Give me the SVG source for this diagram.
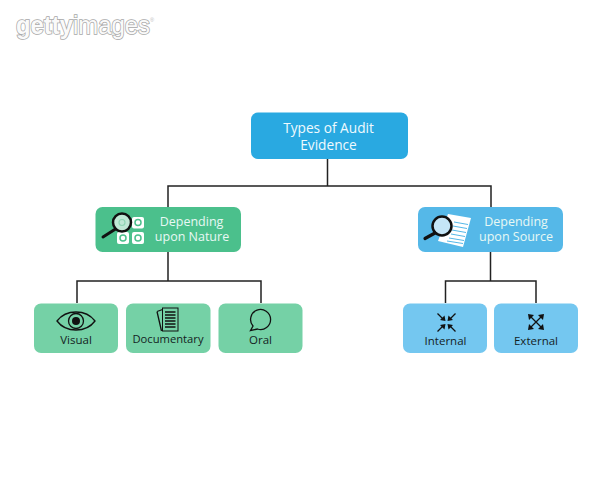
<svg xmlns="http://www.w3.org/2000/svg" width="612" height="490" viewBox="0 0 612 490">
<style>
text{font-family:"Open Sans","Noto Sans",sans-serif;text-anchor:middle}
.t{fill:#e8f8f4;font-size:12.5px}
.l{fill:#14231f;font-size:11.5px}
.c{fill:none;stroke:#222;stroke-width:1.5}
.i{fill:none;stroke:#111;stroke-width:1.3}
.g{fill:#75d1a6}.b{fill:#74c7f0}
.w{fill:#fff}
.mk{fill:#111}
.wm{font-family:"Liberation Sans",sans-serif;font-size:26px;text-anchor:start;stroke:#a8a8a8;stroke-width:1.6;paint-order:stroke;fill:#fafafa}
</style>
<rect width="612" height="490" fill="#fff"/>
<g id="watermark"><text class="wm" x="16" y="34" textLength="138" lengthAdjust="spacingAndGlyphs"><tspan font-weight="700">getty</tspan>images<tspan font-size="6" font-weight="400" dy="-12" stroke="none" fill="#bbb">®</tspan></text></g>
<g id="connectors">
<path class="c" d="M327.500 159V186M168 207V186H491V207M168 252V281M77 303V281H261V303M490.500 252V281M445.500 303V281H536V303"/>
</g>
<g id="root"><rect x="251" y="112.500" width="157" height="46.500" rx="7" fill="#29a9e1"/>
<text font-size="13.700" fill="#f0fafe"><tspan x="328.500" y="133">Types of Audit</tspan><tspan x="328.500" y="149.500">Evidence</tspan></text></g>
<g id="nature"><rect x="95.500" y="207" width="145.500" height="45" rx="7" fill="#4bc08c"/>
<g class="w"><rect x="132" y="217" width="12" height="11.500" rx="2"/><rect x="117" y="232" width="12" height="12" rx="2"/><rect x="132" y="232" width="12" height="12" rx="2"/></g>
<g fill="none" stroke="#4bc08c" stroke-width="1.500"><circle cx="138" cy="222.500" r="3"/><circle cx="123" cy="238" r="3"/><circle cx="138" cy="238" r="3"/></g>
<circle cx="122" cy="222.500" r="9" fill="#bfe8d5" stroke="#111" stroke-width="2.500"/>
<circle cx="122" cy="222.500" r="3" fill="none" stroke="#8fd5b4" stroke-width="1.200"/>
<path d="M115.500 229L103 237" stroke="#111" stroke-width="3" stroke-linecap="round"/>
<text class="t"><tspan x="191.500" y="225.500">Depending</tspan><tspan x="192" y="240.500">upon Nature</tspan></text></g>
<g id="source"><rect x="418" y="207" width="145" height="45" rx="7" fill="#55b8e8"/>
<path class="w" d="M448 214L471 218L463 247L438 241Z"/>
<path d="M454 222L468 224.500M453 226L467 228.500M452 230L466 232.500M451 234L465 236.500M449 238L464 240.500M447 241L463 243.500" stroke="#55b8e8" stroke-width="1" fill="none"/>
<circle cx="442" cy="226" r="9.500" fill="#c5e6f7" stroke="#111" stroke-width="2.500"/>
<path d="M435 233L425 238.500" stroke="#111" stroke-width="3.200" stroke-linecap="round"/>
<text class="t"><tspan x="516" y="225.500">Depending</tspan><tspan x="516" y="240.500">upon Source</tspan></text></g>
<g id="visual"><rect x="34" y="303.500" width="84" height="49.500" rx="7" class="g"/>
<path class="i" d="M57 321C66 309 86 309 95 321C86 333 66 333 57 321Z"/>
<circle cx="76" cy="321" r="7.500" class="i"/><circle cx="76" cy="321" r="4" class="mk"/>
<text class="l" x="76" y="344">Visual</text></g>
<g id="documentary"><rect x="126" y="303.500" width="84.500" height="49.500" rx="7" class="g"/>
<path class="i" stroke-width="1" d="M157 311.500L161.500 331M157 311.500L164 309"/>
<rect x="162.500" y="308" width="15.500" height="23" fill="#75d1a6" stroke="#111"/>
<path d="M165 312H175.500M165 315H175.500M165 318H175.500M165 321H175.500M165 324H175.500M165 327H175.500" stroke="#111" stroke-width="1.700"/>
<text class="l" x="168" y="343" textLength="71" lengthAdjust="spacingAndGlyphs">Documentary</text></g>
<g id="oral"><rect x="218.500" y="303.500" width="84" height="49.500" rx="7" class="g"/>
<path class="i" d="M253 326A10 10 0 1 1 257.500 329L250.500 330.500Z"/>
<text class="l" x="260.500" y="344">Oral</text></g>
<g id="internal"><rect x="403" y="303.500" width="84" height="49.500" rx="7" class="b"/>
<path class="i" d="M437.500 313.500L443 319M455.500 313.500L450 319M437.500 331.500L443 326M455.500 331.500L450 326"/>
<path class="mk" d="M445.500 321L440 320L444.500 315.500ZM447.500 321L453 320L448.500 315.500ZM445.500 324L440 325L444.500 329.500ZM447.500 324L453 325L448.500 329.500Z"/>
<text class="l" x="445.500" y="345">Internal</text></g>
<g id="external"><rect x="494" y="303.500" width="84" height="49.500" rx="7" class="b"/>
<path class="i" d="M530 316L542 328M542 316L530 328"/>
<path class="mk" d="M528 314L534 315L529 320ZM544 314L538 315L543 320ZM528 330L534 329L529 324ZM544 330L538 329L543 324Z"/>
<text class="l" x="536" y="345">External</text></g>
</svg>
